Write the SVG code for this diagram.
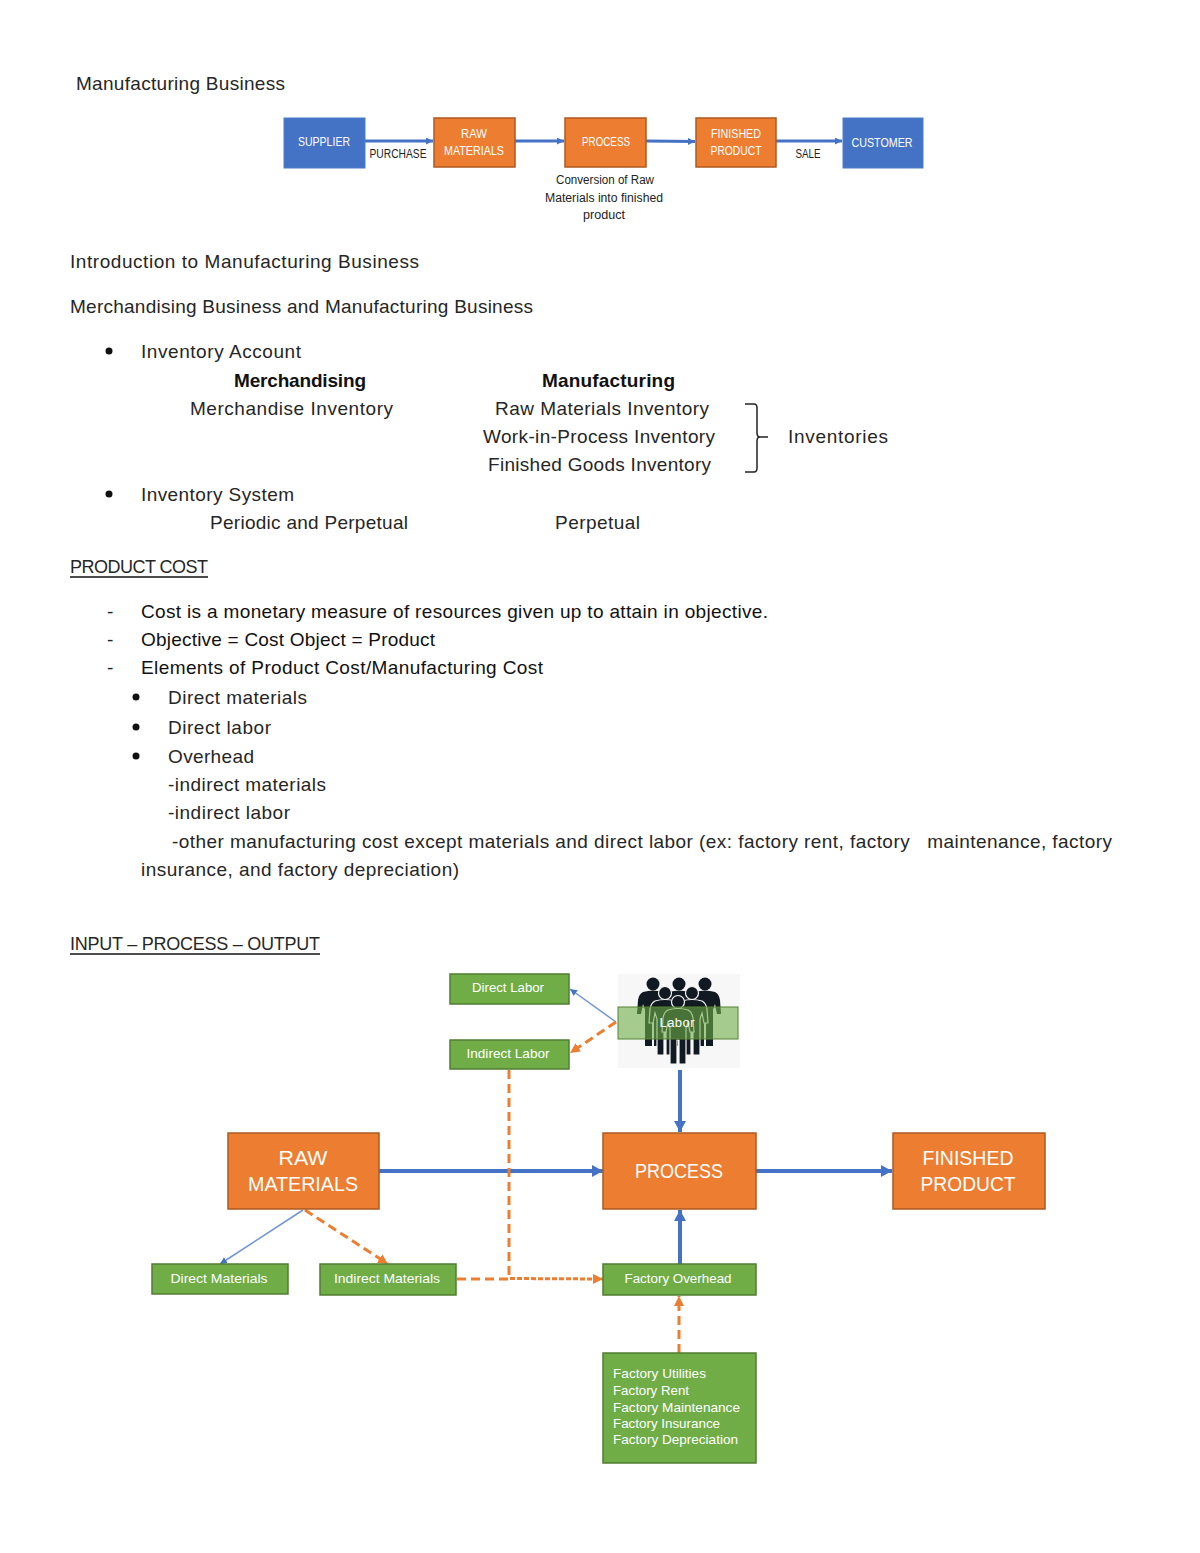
<svg xmlns="http://www.w3.org/2000/svg" width="1200" height="1553" viewBox="0 0 1200 1553">
<style>
text{font-family:"Liberation Sans",Arial,sans-serif}
.b{font-size:19px;fill:#262626}
.cap{font-size:18px;fill:#262626}
.k{font-size:19px;fill:#111}
.bb{font-size:19px;fill:#111;font-weight:bold}
.s{font-size:12.5px;fill:#222;text-anchor:middle}
.w{font-size:13px;fill:#fff;text-anchor:middle}
.g{font-size:13px;fill:#fff;text-anchor:middle}
.gl{font-size:13px;fill:#fff}
.l{font-size:21px;fill:#fff;text-anchor:middle}
.blue{fill:#4472c4;stroke:#4a7ec9;stroke-width:1}
.or{fill:#ed7d31;stroke:#ae5a21;stroke-width:1.5}
.gr{fill:#70ad47;stroke:#507e32;stroke-width:1.5}
.c{fill:none;stroke:#4472c4;stroke-width:3}
.h{fill:none;stroke:#4472c4;stroke-width:4}
.t{fill:none;stroke:#6f94d6;stroke-width:1.5}
.d{fill:none;stroke:#ed7d31;stroke-width:3;stroke-dasharray:9 5}
.f{fill:none;stroke:#ed7d31;stroke-width:3;stroke-dasharray:5 2}
.u{stroke:#111;stroke-width:1.5}
.p{fill:#111a22}
</style>
<defs>
<marker id="ab" markerUnits="userSpaceOnUse" markerWidth="14" markerHeight="14" refX="11" refY="6" orient="auto"><path d="M0 0L11 6L0 12Z" fill="#4472c4"/></marker>
<marker id="as" markerUnits="userSpaceOnUse" markerWidth="8" markerHeight="8" refX="7" refY="3.5" orient="auto"><path d="M0 0L7 3.5L0 7Z" fill="#4472c4"/></marker>
<marker id="ao" markerUnits="userSpaceOnUse" markerWidth="12" markerHeight="12" refX="10" refY="5" orient="auto"><path d="M0 0L10 5L0 10Z" fill="#ed7d31"/></marker>
<g id="person"><circle cx="0" cy="0" r="6.5"/><path d="M-10 8Q0 5 10 8Q14 10 15 16L16 30H12L10 20L8 26V62H1V38H-1V62H-8V26L-10 20L-12 30H-16L-15 16Q-14 10 -10 8Z"/></g>
</defs>
<rect width="1200" height="1553" fill="#fff"/>

<g id="page-text">
<text class="b" x="76" y="90" textLength="209" lengthAdjust="spacing">Manufacturing Business</text>
<text class="b" x="70" y="268" textLength="349" lengthAdjust="spacing">Introduction to Manufacturing Business</text>
<text class="b" x="70" y="313" textLength="463" lengthAdjust="spacing">Merchandising Business and Manufacturing Business</text>
<circle cx="109" cy="351" r="3.5" fill="#111"/>
<text class="b" x="141" y="358" textLength="160" lengthAdjust="spacing">Inventory Account</text>
<text class="bb" x="234" y="387" textLength="132" lengthAdjust="spacing">Merchandising</text>
<text class="bb" x="542" y="387" textLength="133" lengthAdjust="spacing">Manufacturing</text>
<text class="b" x="190" y="415" textLength="203" lengthAdjust="spacing">Merchandise Inventory</text>
<text class="b" x="495" y="415" textLength="214" lengthAdjust="spacing">Raw Materials Inventory</text>
<text class="b" x="483" y="443" textLength="232" lengthAdjust="spacing">Work-in-Process Inventory</text>
<text class="b" x="488" y="471" textLength="223" lengthAdjust="spacing">Finished Goods Inventory</text>
<text class="b" x="788" y="443" textLength="100" lengthAdjust="spacing">Inventories</text>
<path d="M745 404H754Q757 404 757 408V433Q757 437 760 437H768M760 437Q757 437 757 441V468Q757 472 754 472H745" fill="none" stroke="#222" stroke-width="1.5"/>
<circle cx="109" cy="494" r="3.5" fill="#111"/>
<text class="b" x="141" y="501" textLength="153" lengthAdjust="spacing">Inventory System</text>
<text class="b" x="210" y="529" textLength="198" lengthAdjust="spacing">Periodic and Perpetual</text>
<text class="b" x="555" y="529" textLength="85" lengthAdjust="spacing">Perpetual</text>
<text class="cap" x="70" y="573" textLength="138" lengthAdjust="spacing">PRODUCT COST</text>
<line class="u" x1="70" y1="577" x2="208" y2="577"/>
<text class="b" x="107" y="618">-</text>
<text class="k" x="141" y="618" textLength="627" lengthAdjust="spacing">Cost is a monetary measure of resources given up to attain in objective.</text>
<text class="b" x="107" y="646">-</text>
<text class="k" x="141" y="646" textLength="294" lengthAdjust="spacing">Objective = Cost Object = Product</text>
<text class="b" x="107" y="674">-</text>
<text class="k" x="141" y="674" textLength="402" lengthAdjust="spacing">Elements of Product Cost/Manufacturing Cost</text>
<circle cx="136" cy="697" r="3.5" fill="#111"/>
<text class="b" x="168" y="704" textLength="139" lengthAdjust="spacing">Direct materials</text>
<circle cx="136" cy="727" r="3.5" fill="#111"/>
<text class="b" x="168" y="734" textLength="103" lengthAdjust="spacing">Direct labor</text>
<circle cx="136" cy="756" r="3.5" fill="#111"/>
<text class="b" x="168" y="763" textLength="86" lengthAdjust="spacing">Overhead</text>
<text class="b" x="168" y="791" textLength="158" lengthAdjust="spacing">-indirect materials</text>
<text class="b" x="168" y="819" textLength="122" lengthAdjust="spacing">-indirect labor</text>
<text class="b" x="172" y="848" xml:space="preserve" textLength="940" lengthAdjust="spacing">-other manufacturing cost except materials and direct labor (ex: factory rent, factory   maintenance, factory</text>
<text class="b" x="141" y="876" textLength="318" lengthAdjust="spacing">insurance, and factory depreciation)</text>
<text class="cap" x="70" y="950" textLength="250" lengthAdjust="spacing">INPUT – PROCESS – OUTPUT</text>
<line class="u" x1="70" y1="954" x2="320" y2="954"/>
</g>

<g id="connectors">
<line class="c" x1="365" y1="141" x2="433" y2="141" marker-end="url(#as)"/>
<line class="c" x1="515" y1="141" x2="564" y2="141" marker-end="url(#as)"/>
<line class="c" x1="646" y1="141" x2="695" y2="141.5" marker-end="url(#as)"/>
<line class="c" x1="776" y1="141" x2="842" y2="141" marker-end="url(#as)"/>
<line class="t" x1="616" y1="1022" x2="570" y2="989" marker-end="url(#as)"/>
<line class="d" x1="616" y1="1022" x2="570" y2="1053" marker-end="url(#ao)"/>
<line class="h" x1="680" y1="1070" x2="680" y2="1132" marker-end="url(#ab)"/>
<line class="h" x1="379" y1="1171" x2="603" y2="1171" marker-end="url(#ab)"/>
<line class="h" x1="756" y1="1171" x2="892" y2="1171" marker-end="url(#ab)"/>
<line class="h" x1="680" y1="1264" x2="680" y2="1210" marker-end="url(#ab)"/>
<line class="d" x1="509" y1="1070" x2="509" y2="1279"/>
<line class="t" x1="303" y1="1210" x2="220" y2="1264" marker-end="url(#as)"/>
<line class="d" x1="305" y1="1210" x2="388" y2="1264" marker-end="url(#ao)"/>
<line class="d" x1="457" y1="1279" x2="510" y2="1279"/>
<line class="f" x1="510" y1="1278.5" x2="603" y2="1279" marker-end="url(#ao)"/>
<line class="d" x1="679" y1="1353" x2="679" y2="1296" marker-end="url(#ao)"/>
</g>

<g id="supplier"><rect class="blue" x="284" y="118" width="81" height="50"/><text class="w" x="324" y="146" textLength="52" lengthAdjust="spacingAndGlyphs">SUPPLIER</text></g>
<g id="raw-materials-top"><rect class="or" x="434" y="118" width="81" height="49"/><text class="w" x="474" y="138" textLength="26" lengthAdjust="spacingAndGlyphs">RAW</text><text class="w" x="474" y="155" textLength="60" lengthAdjust="spacingAndGlyphs">MATERIALS</text></g>
<g id="process-top"><rect class="or" x="565" y="118" width="81" height="49"/><text class="w" x="606" y="146" textLength="48" lengthAdjust="spacingAndGlyphs">PROCESS</text></g>
<g id="finished-top"><rect class="or" x="696" y="118" width="80" height="49"/><text class="w" x="736" y="138" textLength="50" lengthAdjust="spacingAndGlyphs">FINISHED</text><text class="w" x="736" y="155" textLength="51" lengthAdjust="spacingAndGlyphs">PRODUCT</text></g>
<g id="customer"><rect class="blue" x="843" y="118" width="80" height="50"/><text class="w" x="882" y="147" textLength="61" lengthAdjust="spacingAndGlyphs">CUSTOMER</text></g>
<g id="purchase-label"><text class="s" x="398" y="158" textLength="57" lengthAdjust="spacingAndGlyphs">PURCHASE</text></g>
<g id="sale-label"><text class="s" x="808" y="158" textLength="25" lengthAdjust="spacingAndGlyphs">SALE</text></g>
<g id="conversion-label">
<text class="s" x="605" y="184" textLength="98" lengthAdjust="spacingAndGlyphs">Conversion of Raw</text>
<text class="s" x="604" y="202" textLength="118" lengthAdjust="spacingAndGlyphs">Materials into finished</text>
<text class="s" x="604" y="219" textLength="42" lengthAdjust="spacingAndGlyphs">product</text>
</g>

<g id="direct-labor"><rect class="gr" x="450" y="974" width="119" height="30"/><text class="g" x="508" y="992" textLength="72" lengthAdjust="spacingAndGlyphs">Direct Labor</text></g>
<g id="indirect-labor"><rect class="gr" x="450" y="1040" width="119" height="29"/><text class="g" x="508" y="1058" textLength="83" lengthAdjust="spacingAndGlyphs">Indirect Labor</text></g>
<g id="labor">
<rect x="618" y="974" width="122" height="94" fill="#f7f7f7"/>
<g class="p">
<use href="#person" x="653" y="984"/>
<use href="#person" x="679" y="984"/>
<use href="#person" x="705" y="984"/>
</g>
<g class="p" stroke="#f7f7f7" stroke-width="1.2">
<use href="#person" x="665" y="993"/>
<use href="#person" x="692" y="993"/>
<use href="#person" x="678" y="1002"/>
</g>
<rect x="618" y="1007" width="120" height="32" fill="#70ad47" fill-opacity=".6" stroke="#548235" stroke-width="1"/>
<text class="g" x="677" y="1027" textLength="35" lengthAdjust="spacing">Labor</text>
</g>
<g id="raw-materials"><rect class="or" x="228" y="1133" width="151" height="76"/><text class="l" x="303" y="1165" textLength="49" lengthAdjust="spacingAndGlyphs">RAW</text><text class="l" x="303" y="1191" textLength="110" lengthAdjust="spacingAndGlyphs">MATERIALS</text></g>
<g id="process"><rect class="or" x="603" y="1133" width="153" height="76"/><text class="l" x="679" y="1178" textLength="88" lengthAdjust="spacingAndGlyphs">PROCESS</text></g>
<g id="finished-product"><rect class="or" x="893" y="1133" width="152" height="76"/><text class="l" x="968" y="1165" textLength="91" lengthAdjust="spacingAndGlyphs">FINISHED</text><text class="l" x="968" y="1191" textLength="95" lengthAdjust="spacingAndGlyphs">PRODUCT</text></g>
<g id="direct-materials"><rect class="gr" x="152" y="1264" width="136" height="30"/><text class="g" x="219" y="1283" textLength="97" lengthAdjust="spacingAndGlyphs">Direct Materials</text></g>
<g id="indirect-materials"><rect class="gr" x="320" y="1264" width="136" height="31"/><text class="g" x="387" y="1283" textLength="106" lengthAdjust="spacingAndGlyphs">Indirect Materials</text></g>
<g id="factory-overhead"><rect class="gr" x="603" y="1264" width="153" height="31"/><text class="g" x="678" y="1283" textLength="107" lengthAdjust="spacingAndGlyphs">Factory Overhead</text></g>
<g id="factory-costs"><rect class="gr" x="603" y="1353" width="153" height="110"/>
<text class="gl" x="613" y="1378" textLength="93" lengthAdjust="spacingAndGlyphs">Factory Utilities</text>
<text class="gl" x="613" y="1395" textLength="76" lengthAdjust="spacingAndGlyphs">Factory Rent</text>
<text class="gl" x="613" y="1412" textLength="127" lengthAdjust="spacingAndGlyphs">Factory Maintenance</text>
<text class="gl" x="613" y="1428" textLength="107" lengthAdjust="spacingAndGlyphs">Factory Insurance</text>
<text class="gl" x="613" y="1444" textLength="125" lengthAdjust="spacingAndGlyphs">Factory Depreciation</text>
</g>
</svg>
